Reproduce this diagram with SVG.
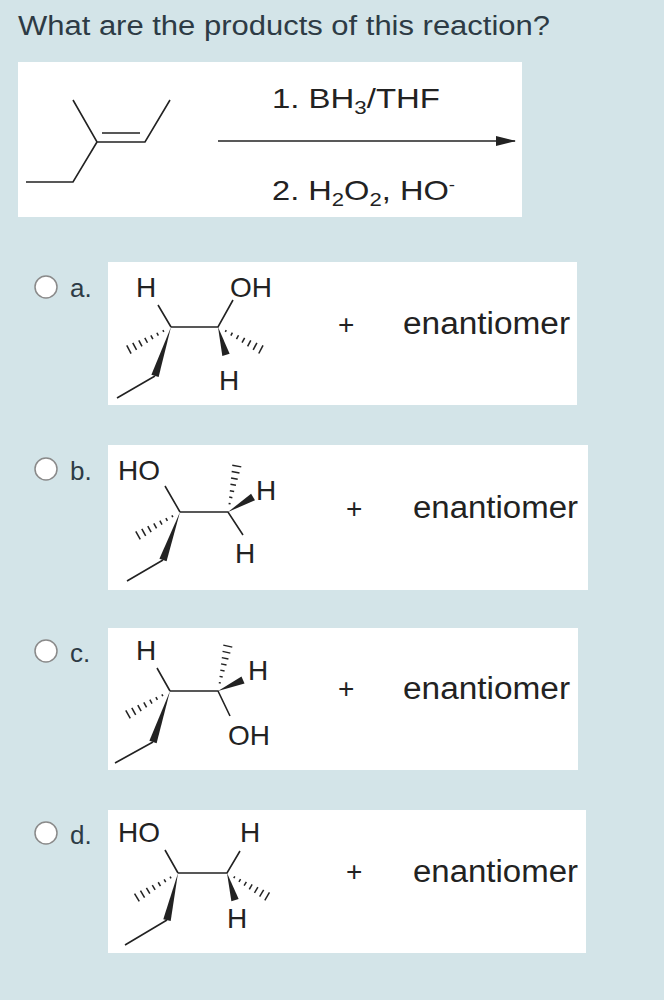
<svg xmlns="http://www.w3.org/2000/svg" xmlns:xlink="http://www.w3.org/1999/xlink" width="664" height="1000" viewBox="0 0 664 1000">
<style>
text{font-family:"Liberation Sans",Arial,sans-serif;fill:#222}
.t{font-size:27px;fill:#2d3b45}
.l{font-size:28px}
.o{font-size:26px;fill:#2d3b45}
.e{font-size:31px}
.box{fill:#fff}
.b{stroke:#222;stroke-width:1.6;fill:none}
.r{fill:#fff;stroke:#8a8a8a;stroke-width:1.5}
</style>
<defs>
<g id="hash" stroke="#222" stroke-width="1.4">
<line x1="8" y1="-1" x2="8" y2="1"/><line x1="14" y1="-1.6" x2="14" y2="1.6"/><line x1="20" y1="-2.2" x2="20" y2="2.2"/><line x1="26" y1="-2.8" x2="26" y2="2.8"/><line x1="32" y1="-3.4" x2="32" y2="3.4"/><line x1="38" y1="-4" x2="38" y2="4"/><line x1="44" y1="-4.6" x2="44" y2="4.6"/>
</g>
<polygon id="wedge" points="0,0 45,-3.8 45,3.8" fill="#222"/>
<marker id="ah" markerWidth="20" markerHeight="10" refX="19" refY="5" orient="auto" markerUnits="userSpaceOnUse"><path d="M0,0 L20,5 L0,10 Z" fill="#222"/></marker>
</defs>
<rect width="664" height="1000" fill="#d3e4e8"/>
<text class="t" x="18" y="35" textLength="532" lengthAdjust="spacingAndGlyphs">What are the products of this reaction?</text>

<g id="reaction">
<rect class="box" x="18" y="62" width="504" height="155"/>
<path class="b" d="M73,100 L97,142 L145,142 L170,100 M102,133 L140,133 M97,142 L73,182 L26,182"/>
<text class="l" x="272" y="108" textLength="168" lengthAdjust="spacingAndGlyphs">1. BH<tspan font-size="19" dy="6">3</tspan><tspan dy="-6">/THF</tspan></text>
<text class="l" x="272" y="200" textLength="183" lengthAdjust="spacingAndGlyphs">2. H<tspan font-size="19" dy="6">2</tspan><tspan dy="-6">O</tspan><tspan font-size="19" dy="6">2</tspan><tspan dy="-6">, HO</tspan><tspan font-size="16" dy="-10">-</tspan></text>
</g>
<g id="connectors"><line x1="218" y1="141" x2="515" y2="141" stroke="#222" stroke-width="1.6" marker-end="url(#ah)"/></g>

<g id="opt-a">
<circle class="r" cx="46" cy="287" r="11"/>
<text class="o" x="70" y="297">a.</text>
<rect class="box" x="108" y="262" width="469" height="143"/>
<text class="l" x="136" y="297">H</text>
<text class="l" x="230" y="297">OH</text>
<text class="l" x="219" y="390">H</text>
<path class="b" d="M171,327 L158,305 M171,327 L218,327 L233,300 M155,376 L117,398"/>
<use xlink:href="#hash" transform="translate(171,327) rotate(151.9) scale(1.084,1)"/>
<use xlink:href="#wedge" transform="translate(171,327) rotate(108.1) scale(1.144,1)"/>
<use xlink:href="#wedge" transform="translate(218,327) rotate(74) scale(0.644,1)"/>
<use xlink:href="#hash" transform="translate(218,327) rotate(27.6) scale(1.1,1)"/>
<text class="l" x="338" y="334">+</text>
<text class="e" x="403" y="334" textLength="167" lengthAdjust="spacingAndGlyphs">enantiomer</text>
</g>

<g id="opt-b">
<circle class="r" cx="46" cy="469" r="11"/>
<text class="o" x="70" y="480">b.</text>
<rect class="box" x="108" y="445" width="480" height="145"/>
<text class="l" x="118" y="480">HO</text>
<text class="l" x="256" y="500">H</text>
<text class="l" x="235" y="563">H</text>
<path class="b" d="M180,512 L165,486 M180,512 L228,512 L243,535 M163,560 L127,581"/>
<use xlink:href="#hash" transform="translate(180,512) rotate(150.8) scale(1.093,1)"/>
<use xlink:href="#wedge" transform="translate(180,512) rotate(109.5) scale(1.131,1)"/>
<use xlink:href="#hash" transform="translate(228,512) rotate(-79.2) scale(1.064,1)"/>
<use xlink:href="#wedge" transform="translate(228,512) rotate(-31) scale(0.649,1)"/>
<text class="l" x="346" y="518">+</text>
<text class="e" x="413" y="518" textLength="165" lengthAdjust="spacingAndGlyphs">enantiomer</text>
</g>

<g id="opt-c">
<circle class="r" cx="46" cy="651" r="11"/>
<text class="o" x="70" y="662">c.</text>
<rect class="box" x="108" y="628" width="470" height="142"/>
<text class="l" x="136" y="660">H</text>
<text class="l" x="248" y="680">H</text>
<text class="l" x="228" y="745">OH</text>
<path class="b" d="M170,691 L157,668 M170,691 L218,691 L230,716 M153,742 L115,763"/>
<use xlink:href="#hash" transform="translate(170,691) rotate(150.8) scale(1.093,1)"/>
<use xlink:href="#wedge" transform="translate(170,691) rotate(108.4) scale(1.196,1)"/>
<use xlink:href="#hash" transform="translate(218,691) rotate(-77.7) scale(1.044,1)"/>
<use xlink:href="#wedge" transform="translate(218,691) rotate(-23.7) scale(0.607,1)"/>
<text class="l" x="338" y="698">+</text>
<text class="e" x="403" y="699" textLength="167" lengthAdjust="spacingAndGlyphs">enantiomer</text>
</g>

<g id="opt-d">
<circle class="r" cx="46" cy="833" r="11"/>
<text class="o" x="70" y="844">d.</text>
<rect class="box" x="108" y="810" width="478" height="143"/>
<text class="l" x="118" y="842">HO</text>
<text class="l" x="240" y="842">H</text>
<text class="l" x="227" y="928">H</text>
<path class="b" d="M178,873 L165,850 M178,873 L227,873 L240,851 M167,920 L125,945"/>
<use xlink:href="#hash" transform="translate(178,873) rotate(149.2) scale(1.087,1)"/>
<use xlink:href="#wedge" transform="translate(178,873) rotate(103.2) scale(1.073,1)"/>
<use xlink:href="#wedge" transform="translate(227,873) rotate(73.5) scale(0.627,1)"/>
<use xlink:href="#hash" transform="translate(227,873) rotate(30.3) scale(1.056,1)"/>
<text class="l" x="346" y="881">+</text>
<text class="e" x="413" y="882" textLength="165" lengthAdjust="spacingAndGlyphs">enantiomer</text>
</g>
</svg>
